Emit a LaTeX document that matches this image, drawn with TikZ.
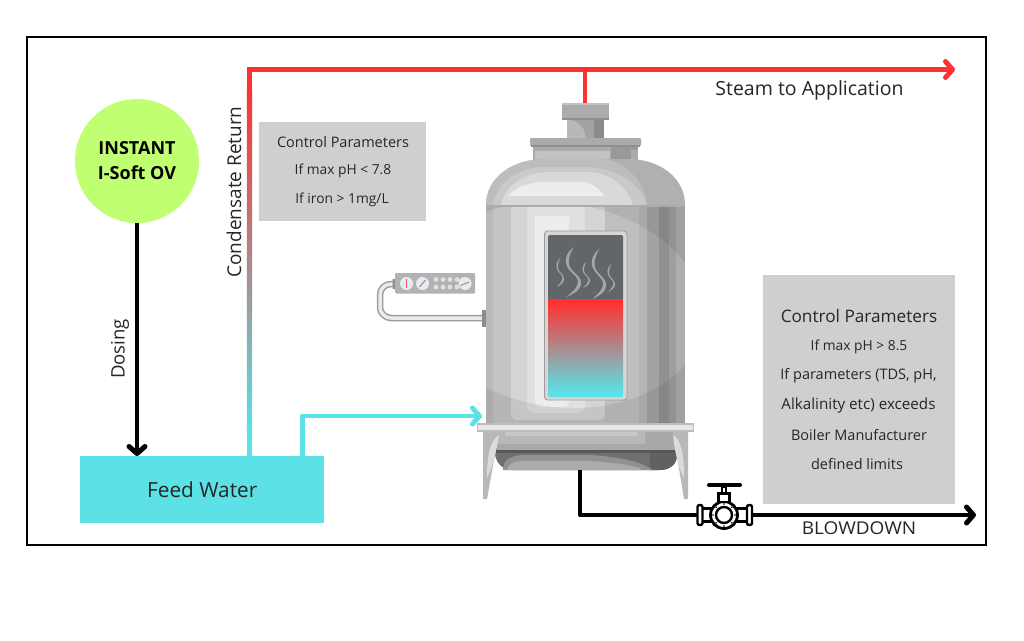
\documentclass[tikz,border=0pt]{standalone}
\usepackage{fontspec}
\setmainfont{Open Sans}
\usetikzlibrary{arrows.meta,calc}
\definecolor{lime}{HTML}{C1FF72}
\definecolor{teal2}{HTML}{5CE1E6}
\definecolor{redl}{HTML}{FF3131}
\definecolor{boxg}{HTML}{CFD0CD}
\definecolor{winD}{HTML}{636668}
\tikzset{
  px/.style={x=1pt,y=-1pt},
  pipeline/.style={line width=4.8pt,line join=round},
  barb/.style={-{Straight Barb[round,length=7pt,width=16pt,line width=5pt]}},
  ctrl/.style={fill=boxg,draw=none,minimum width=0pt},
  lbl/.style={font=\fontsize{14.5}{17}\selectfont,inner sep=0pt,text=black!85},
  lbs/.style={font=\fontsize{13.8}{17}\selectfont,inner sep=0pt,text=black!85},
  lab/.style={text=black!85,inner sep=0pt},
  fl/.style={draw=none}
}
\newcommand{\wisp}[4]{% x, y bottom, width, height
  \begin{scope}[shift={(#1,#2)},xscale=#3,yscale=-#4]
  \fill[black!35] (0.55,1) .. controls (0.1,0.88) and (-0.05,0.78) .. (0.12,0.62)
    .. controls (0.3,0.48) and (0.9,0.42) .. (0.8,0.27) .. controls (0.72,0.15) and (0.35,0.08) .. (0.1,0)
    .. controls (0.5,0.06) and (1.05,0.14) .. (1,0.3) .. controls (0.95,0.45) and (0.3,0.5) .. (0.24,0.68)
    .. controls (0.2,0.78) and (0.35,0.9) .. (0.55,1) -- cycle;
  \end{scope}}
\begin{document}
\begin{tikzpicture}[px]
\useasboundingbox (0,0) rectangle (1024,640);
\fill[white] (0,0) rectangle (1024,640);
% tank ----------------------------------------------------
% top cap and neck
\fill[fl,fill=black!36] (567,118) rectangle (604,140);
\fill[fl,fill=black!28] (567,120) .. controls (578,120) and (584,126) .. (586,138) -- (567,138) -- cycle;
\fill[fl,fill=black!46] (594,118) rectangle (604,140);
\fill[fl,fill=black!33] (562,103) rectangle (609,120);
\fill[fl,fill=black!24] (562,103) rectangle (609,105);
\fill[fl,fill=black!44] (562,118) rectangle (609,120);
% collar
\fill[fl,fill=black!33] (533,146) rectangle (638,160);
\fill[fl,fill=black!40] (611,146) rectangle (638,160);
\fill[fl,fill=black!24] (535,151) rectangle (610,159);
\fill[fl,fill=black!33] (631,150) rectangle (638,160);
% flange
\fill[rounded corners=1pt,black!33] (530,138) rectangle (641,146);
\fill[black!44] (531,145) rectangle (640,146.5);
% dome
\fill[black!31] (486,205) .. controls (486,178) and (512,159) .. (545,159) -- (628,159) .. controls (660,159) and (685,178) .. (685,205) -- cycle;
\fill[black!26] (486,205) .. controls (486,178) and (512,159) .. (545,159) -- (605,159) .. controls (630,164) and (645,185) .. (647,205) -- cycle;
\fill[black!21] (493,205) .. controls (497,180) and (520,167) .. (545,167) -- (590,167) .. controls (625,170) and (643,190) .. (647,205) -- cycle;
\fill[black!15] (501,205) .. controls (505,185) and (525,172) .. (550,172) -- (590,172) .. controls (615,174) and (628,190) .. (633,205) -- cycle;
\fill[black!7] (508,196) .. controls (515,187) and (530,182) .. (545,182) -- (580,182) .. controls (590,182) and (600,188) .. (604,196) -- cycle;
% body
\begin{scope}
\clip (486,205) rectangle (685,423);
\fill[black!24] (486,206) rectangle (685,423);
\fill[black!27] (486,206) rectangle (493,423);
\fill[black!23] (493,206) rectangle (511,423);
\fill[rounded corners=6pt,black!17] (511,190) rectangle (605,420);
\fill[rounded corners=6pt,black!12] (527,190) rectangle (585,413);
\fill[black!7] (535,216) [rounded corners=6pt] -- (535,407) -- (569,407) [sharp corners] -- (569,216) -- cycle;
\fill[black!25] (605,206) rectangle (639,423);
\fill[black!29] (639,206) rectangle (647,423);
\fill[black!36] (647,206) rectangle (659,423);
\fill[black!43] (659,206) rectangle (669,423);
\fill[black!38] (669,206) rectangle (676,423);
\fill[black!32] (676,206) rectangle (685,423);
\fill[black,opacity=0.07,even odd rule] (480,200) rectangle (690,425) (560,305) ellipse [x radius=145,y radius=102,rotate=-8];
\fill[black!33] (486,205) rectangle (685,207);
\end{scope}
% window
\fill[rounded corners=3pt,black!16,draw=black!40,line width=0.8pt] (544.5,231) rectangle (627,400);
\fill[rounded corners=1.5pt,winD] (548,235) rectangle (623,300);
\fill[redl] (548,299) rectangle (623,303);
\shade[top color=redl,bottom color=teal2] (548,302) rectangle (623,392);
\fill[teal2,rounded corners=1.5pt] (548,391) rectangle (623,397);
% steam
\wisp{556}{287}{8}{29}
\wisp{565}{297}{16}{50}
\wisp{582}{288}{8}{26}
\wisp{591}{299}{15}{50}
\wisp{607}{292}{8}{28}
% bottom bowl
\fill[black!56] (495,432) -- (677,432) -- (677,455) .. controls (677,464) and (670,470) .. (660,470) -- (512,470) .. controls (503,470) and (497,464) .. (495,455) -- cycle;
\fill[black!34] (497,432) rectangle (675,450);
\fill[black!28] (497,432) rectangle (645,444);
\fill[black!22] (505,432) rectangle (637,436);
\fill[black!66] (495,450) rectangle (677,452.5);
\fill[black!62] (650,453) -- (677,453) -- (677,455) .. controls (677,464) and (670,470) .. (660,470) -- (650,470) -- cycle;
\fill[black!43] (503,470) .. controls (503,460) and (510,455) .. (525,455) -- (587,455) .. controls (615,456) and (640,461) .. (653,470) -- cycle;
\fill[black!33] (507,470) .. controls (508,464) and (513,461) .. (525,461) -- (587,461) .. controls (610,462) and (630,465) .. (640,468) -- (640,470) -- cycle;
% legs
\fill[black!28] (483,432) -- (499,432) -- (487,499) -- (483,499) -- cycle;
\fill[black!14] (499,435) .. controls (491,440) and (487,452) .. (487,478) .. controls (492,468) and (496,455) .. (499,435) -- cycle;
\fill[black!28] (688,432) -- (673,432) -- (684,499) -- (688,499) -- cycle;
\fill[black!14] (673,435) .. controls (681,440) and (684,452) .. (684,478) .. controls (679,468) and (675,455) .. (673,435) -- cycle;
% platform
\fill[black!26] (477,423) rectangle (694,432);
\fill[black!9] (478,424.5) rectangle (693,429.5);
% gauge pipe
\draw[black!38,line width=6.5pt,rounded corners=11pt] (396,284) -- (380,284) -- (380,318) -- (486,318);
\draw[black!8,line width=3.5pt,rounded corners=11pt] (396,284) -- (380,284) -- (380,318) -- (486,318);
\fill[black!45] (482,310) rectangle (486,327);
\fill[rounded corners=0.5pt,black!45] (392.5,279) rectangle (396,289);
\fill[rounded corners=1pt,black!30] (395,273) rectangle (475,293.5);
\foreach \x in {406.5,422.5,465}{\fill[black!8] (\x,283.5) circle (6.5pt); \fill[black!15!cyan!15] (\x,283.5) circle (5pt);}
\draw[red!70!white,line width=0.8pt] (406.5,279) -- (406.5,288);
\draw[red!70!white,line width=0.8pt] (419.5,287) -- (425.5,280);
\draw[red!70!white,line width=0.8pt] (460.5,285.5) -- (469,282);
\foreach \x in {436,443,450,457}{\foreach \y in {279.5,287}{\fill[black!8!cyan!12!black!15] (\x,\y) circle (2.4pt);}}
% frame -----------------------------------------------------
\node[draw=black,line width=2pt,fill=none,inner sep=0pt,anchor=north west,minimum width=959pt,minimum height=508pt] (frame) at (26,36) {};
% nodes
\node[fill=lime,circle,minimum size=124pt,inner sep=0pt,align=center,font=\fontsize{18}{25}\selectfont\bfseries] (inst) at (137,161) {INSTANT\\I-Soft OV};
\node[fill=teal2,anchor=north west,minimum width=244pt,minimum height=67pt,inner sep=0pt,font=\fontsize{20.8}{24}\selectfont,text=black!85] (feed) at (80,456) {Feed Water};
\node[ctrl,anchor=north west,minimum width=167pt,minimum height=99pt] (box1) at (259,122) {};
\node[lbl] at (343,142) {Control Parameters};
\node[lbs] at (343,171) {If max pH < 7.8};
\node[lbs] at (342,200) {If iron > 1mg/L};
\node[ctrl,anchor=north west,minimum width=192pt,minimum height=229pt] (box2) at (763,275) {};
\node[lab,font=\fontsize{17.2}{20}\selectfont] at (859,316) {Control Parameters};
\node[lbs] at (859,347) {If max pH > 8.5};
\node[lbl] at (858.5,376) {If parameters (TDS, pH,};
\node[lbl,font=\fontsize{15.2}{17}\selectfont] at (858.5,406) {Alkalinity etc) exceeds};
\node[lbl] at (859,435) {Boiler Manufacturer};
\node[lbl] at (857,464) {defined limits};
\node[lab,font=\fontsize{19.5}{22}\selectfont] at (809.5,90) {Steam to Application};
\node[lab,font=\fontsize{19}{22}\selectfont,yscale=0.93] at (859,528) {BLOWDOWN};
\node[lab,font=\fontsize{19}{22}\selectfont,rotate=90] at (234,192) {Condensate Return};
\node[lab,font=\fontsize{18.6}{22}\selectfont,rotate=90] at (120,349) {Dosing};
% connectors
\coordinate (cr) at (249.5,69.5);
\coordinate (steamEnd) at (955,69.5);
\coordinate (steamTap) at (585,69.5);
\coordinate (tankTop) at (585,103);
\coordinate (crb) at (249.5,456);
\coordinate (tw) at (302.8,456);
\coordinate (twc) at (302.8,416);
\coordinate (twEnd) at (482,416);
\coordinate (bd0) at (580,470);
\coordinate (bd1) at (580,515);
\coordinate (bdEnd) at (976,515);
\coordinate (valve) at (724,515);
\fill[redl] ($(cr)+(-2.7,-2.4)$) rectangle (252.2,90);
\shade[top color=redl,bottom color=teal2] (246.8,90) rectangle (252.2,435);
\fill[teal2] (246.8,434.5) rectangle ($(crb)+(2.7,0)$);
\draw[pipeline,redl,barb] (cr) -- (steamEnd);
\draw[pipeline,redl] (steamTap) -- (tankTop);
\draw[pipeline,teal2,barb] (tw) -- (twc) -- (twEnd);
\draw[pipeline,black,barb] (inst) -- (feed.north -| inst);
\draw[pipeline,black] (bd0) -- (bd1) -- (valve);
\draw[pipeline,black,barb] (valve) -- (bdEnd);
% valve
\fill[white] (697,505) rectangle (752,525);
\draw[black,line width=2.2pt,fill=white] (702,508.5) rectangle (747,521.5);
\draw[black,line width=2.4pt,fill=white,rounded corners=2pt] (697.5,505) rectangle (702.5,525);
\draw[black,line width=2.4pt,fill=white,rounded corners=2pt] (747,505) rectangle (752,525);
\draw[black,line width=2.8pt,fill=white] (valve) circle (13.5pt);
\draw[black,line width=2.4pt] (valve) circle (8pt);
\foreach \a in {0,45,...,315}{\fill[black] ($(valve)+(\a:11pt)$) circle (0.9pt);}
\draw[black,line width=2.4pt,fill=white] (718.5,493.5) rectangle (729.5,502);
\draw[black,line width=2.4pt,fill=white] (722,487) rectangle (726,493);
\draw[black,line width=4pt,line cap=round] (709,485) -- (740,485);
\end{tikzpicture}
\end{document}
